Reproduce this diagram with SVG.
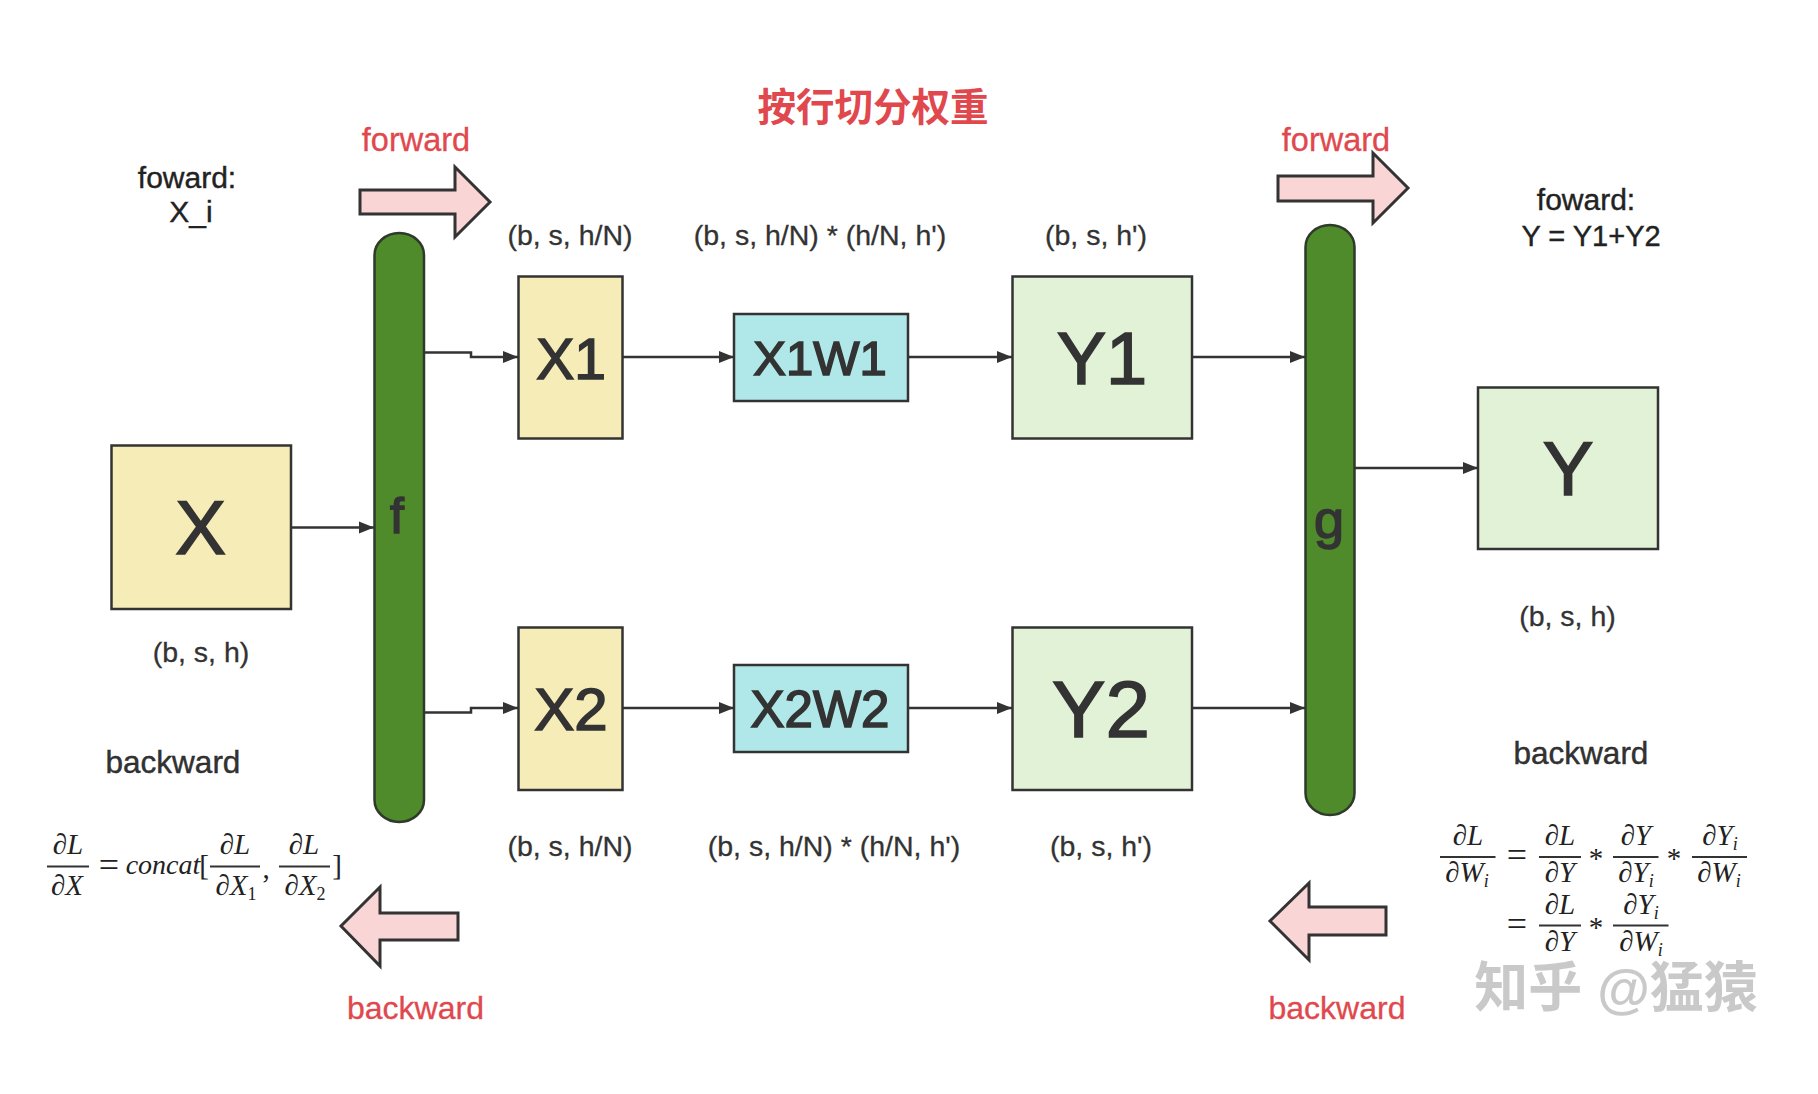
<svg xmlns="http://www.w3.org/2000/svg" width="1818" height="1094" viewBox="0 0 1818 1094">
<style>
text{font-family:"Liberation Sans","Noto Sans CJK SC",sans-serif;text-anchor:middle;fill:#333}
.box{stroke:#333;stroke-width:2.5}
.yl{fill:#f5ecb8}.cy{fill:#b0e8e9}.gr{fill:#e2f2d7}
.bar{fill:#4f8a2b;stroke:#2f3a2a;stroke-width:2.5}
.pk{fill:#f9d5d6;stroke:#333;stroke-width:3;stroke-linejoin:miter}
.con{fill:none;stroke:#333;stroke-width:2.5;marker-end:url(#ah)}
.big{stroke:#333;stroke-width:1.6}
.dim{font-size:28.5px;stroke:#333;stroke-width:.3}
.note{font-size:30px;fill:#222;stroke:#222;stroke-width:.4}
.red{font-size:32.5px;fill:#e0484e;stroke:#e0484e;stroke-width:.3}
.redb{font-size:32px}
.m{font-family:"Liberation Serif",serif;font-size:29px;fill:#222}
.mi{font-style:italic}
.sub{font-size:18px}
.eq{font-size:36px}
.fl{stroke:#333;stroke-width:1.8}
</style>
<defs>
<marker id="ah" markerUnits="userSpaceOnUse" markerWidth="18" markerHeight="14" refX="16" refY="7" orient="auto"><path d="M1 1L16 7L1 13Z" fill="#333"/></marker>
</defs>
<rect width="1818" height="1094" fill="#fff"/>
<text id="title" x="873" y="121" style="font-size:38.500px;font-weight:700;fill:#e0484e">按行切分权重</text>

<g id="connectors">
<path class="con" d="M291 527.500H374"/>
<path class="con" d="M424 352.500H471V357H518"/>
<path class="con" d="M424 712.500H471V708H518"/>
<path class="con" d="M622.500 357H734"/>
<path class="con" d="M622.500 708H734"/>
<path class="con" d="M908 357H1012"/>
<path class="con" d="M908 708H1012"/>
<path class="con" d="M1192 357H1305"/>
<path class="con" d="M1192 708H1305"/>
<path class="con" d="M1354 468H1478"/>
</g>

<g id="node-X"><rect class="box yl" x="111.500" y="445.500" width="179.500" height="163.500"/><text class="big" x="200.500" y="554" style="font-size:76px">X</text></g>
<g id="node-f"><rect class="bar" x="374.500" y="233" width="49.500" height="589" rx="24.700" ry="22"/><text class="big" x="397" y="533" style="font-size:50px">f</text></g>
<g id="node-X1"><rect class="box yl" x="518.500" y="276.500" width="104" height="162"/><text class="big" x="571" y="379" style="font-size:57px">X1</text></g>
<g id="node-X2"><rect class="box yl" x="518.500" y="627.500" width="104" height="162.500"/><text class="big" x="571" y="730" style="font-size:60px">X2</text></g>
<g id="node-X1W1"><rect class="box cy" x="734" y="314" width="174" height="87"/><text class="big" x="820" y="375" style="font-size:49px">X1W1</text></g>
<g id="node-X2W2"><rect class="box cy" x="734" y="665" width="174" height="87"/><text class="big" x="820" y="727" style="font-size:51px">X2W2</text></g>
<g id="node-Y1"><rect class="box gr" x="1012.500" y="276.500" width="179.500" height="162"/><text class="big" x="1102" y="384" style="font-size:74px">Y1</text></g>
<g id="node-Y2"><rect class="box gr" x="1012.500" y="627.500" width="179.500" height="162.500"/><text class="big" x="1101" y="737" style="font-size:80px">Y2</text></g>
<g id="node-g"><rect class="bar" x="1305.500" y="225" width="49" height="590" rx="24.500" ry="22"/><text class="big" x="1329" y="538" style="font-size:54px">g</text></g>
<g id="node-Y"><rect class="box gr" x="1478" y="387.500" width="180" height="161.500"/><text class="big" x="1568" y="495" style="font-size:76px">Y</text></g>

<g id="block-arrows">
<path class="pk" d="M360 190H455V167L490 202L455 237V214H360Z"/>
<path class="pk" d="M1278 176H1373V153L1408 188L1373 223V201H1278Z"/>
<path class="pk" d="M458 913H380V887L341 926L380 966V940H458Z"/>
<path class="pk" d="M1386 907H1309V883L1270 921L1309 960V935H1386Z"/>
</g>

<g id="labels">
<text class="red" x="416" y="151">forward</text>
<text class="red" x="1336" y="151">forward</text>
<text class="red redb" x="415.500" y="1019">backward</text>
<text class="red redb" x="1337" y="1019">backward</text>
<text class="note" x="187" y="188">foward:</text>
<text class="note" x="191" y="222">X_i</text>
<text class="note" x="1586" y="210">foward:</text>
<text class="note" x="1591" y="246" style="font-size:29px">Y = Y1+Y2</text>
<text class="note" x="173" y="773" style="font-size:31.500px;fill:#333">backward</text>
<text class="note" x="1581" y="764" style="font-size:31.500px;fill:#333">backward</text>
<text class="dim" x="570" y="245">(b, s, h/N)</text>
<text class="dim" x="820" y="245">(b, s, h/N) * (h/N, h')</text>
<text class="dim" x="1096" y="245">(b, s, h')</text>
<text class="dim" x="570" y="856">(b, s, h/N)</text>
<text class="dim" x="834" y="856">(b, s, h/N) * (h/N, h')</text>
<text class="dim" x="1101" y="856">(b, s, h')</text>
<text class="dim" x="201" y="662">(b, s, h)</text>
<text class="dim" x="1567.500" y="626">(b, s, h)</text>
</g>

<g id="formula-left">
<text class="m" x="68" y="854"><tspan>∂</tspan><tspan class="mi">L</tspan></text>
<line class="fl" x1="47" x2="89" y1="866.500" y2="866.500"/>
<text class="m" x="67" y="895"><tspan>∂</tspan><tspan class="mi">X</tspan></text>
<text class="m eq" x="109" y="877">=</text>
<text class="m mi" x="163" y="874" style="font-size:28px">concat</text>
<text class="m" x="204" y="875" style="font-size:29px">[</text>
<text class="m" x="235" y="854"><tspan>∂</tspan><tspan class="mi">L</tspan></text>
<line class="fl" x1="210" x2="260" y1="866.500" y2="866.500"/>
<text class="m" x="236" y="895"><tspan>∂</tspan><tspan class="mi">X</tspan><tspan class="sub" dy="5">1</tspan></text>
<text class="m" x="266" y="878">,</text>
<text class="m" x="304" y="854"><tspan>∂</tspan><tspan class="mi">L</tspan></text>
<line class="fl" x1="279" x2="330" y1="866.500" y2="866.500"/>
<text class="m" x="305" y="895"><tspan>∂</tspan><tspan class="mi">X</tspan><tspan class="sub" dy="5">2</tspan></text>
<text class="m" x="337" y="875" style="font-size:29px">]</text>
</g>

<g id="formula-right">
<text class="m" x="1468" y="845"><tspan>∂</tspan><tspan class="mi">L</tspan></text>
<line class="fl" x1="1440" x2="1495.500" y1="857" y2="857"/>
<text class="m" x="1467" y="882"><tspan>∂</tspan><tspan class="mi">W</tspan><tspan class="sub mi" dy="5">i</tspan></text>
<text class="m eq" x="1517" y="867">=</text>
<text class="m" x="1560" y="845"><tspan>∂</tspan><tspan class="mi">L</tspan></text>
<line class="fl" x1="1539" x2="1581" y1="857" y2="857"/>
<text class="m" x="1560" y="882"><tspan>∂</tspan><tspan class="mi">Y</tspan></text>
<text class="m" x="1596" y="868">*</text>
<text class="m" x="1636" y="845"><tspan>∂</tspan><tspan class="mi">Y</tspan></text>
<line class="fl" x1="1613" x2="1658.500" y1="857" y2="857"/>
<text class="m" x="1636" y="882"><tspan>∂</tspan><tspan class="mi">Y</tspan><tspan class="sub mi" dy="5">i</tspan></text>
<text class="m" x="1674" y="868">*</text>
<text class="m" x="1720" y="845"><tspan>∂</tspan><tspan class="mi">Y</tspan><tspan class="sub mi" dy="5">i</tspan></text>
<line class="fl" x1="1692" x2="1747" y1="857" y2="857"/>
<text class="m" x="1719" y="882"><tspan>∂</tspan><tspan class="mi">W</tspan><tspan class="sub mi" dy="5">i</tspan></text>
<text class="m eq" x="1517" y="936">=</text>
<text class="m" x="1560" y="914"><tspan>∂</tspan><tspan class="mi">L</tspan></text>
<line class="fl" x1="1539" x2="1581" y1="925.500" y2="925.500"/>
<text class="m" x="1560" y="951"><tspan>∂</tspan><tspan class="mi">Y</tspan></text>
<text class="m" x="1596" y="937">*</text>
<text class="m" x="1641" y="914"><tspan>∂</tspan><tspan class="mi">Y</tspan><tspan class="sub mi" dy="5">i</tspan></text>
<line class="fl" x1="1613" x2="1668.500" y1="925.500" y2="925.500"/>
<text class="m" x="1641" y="951"><tspan>∂</tspan><tspan class="mi">W</tspan><tspan class="sub mi" dy="5">i</tspan></text>
</g>

<text id="watermark" x="1616" y="1007" style="font-size:54px;font-weight:700;fill:#c9c9c9">知乎 @猛猿</text>
</svg>
